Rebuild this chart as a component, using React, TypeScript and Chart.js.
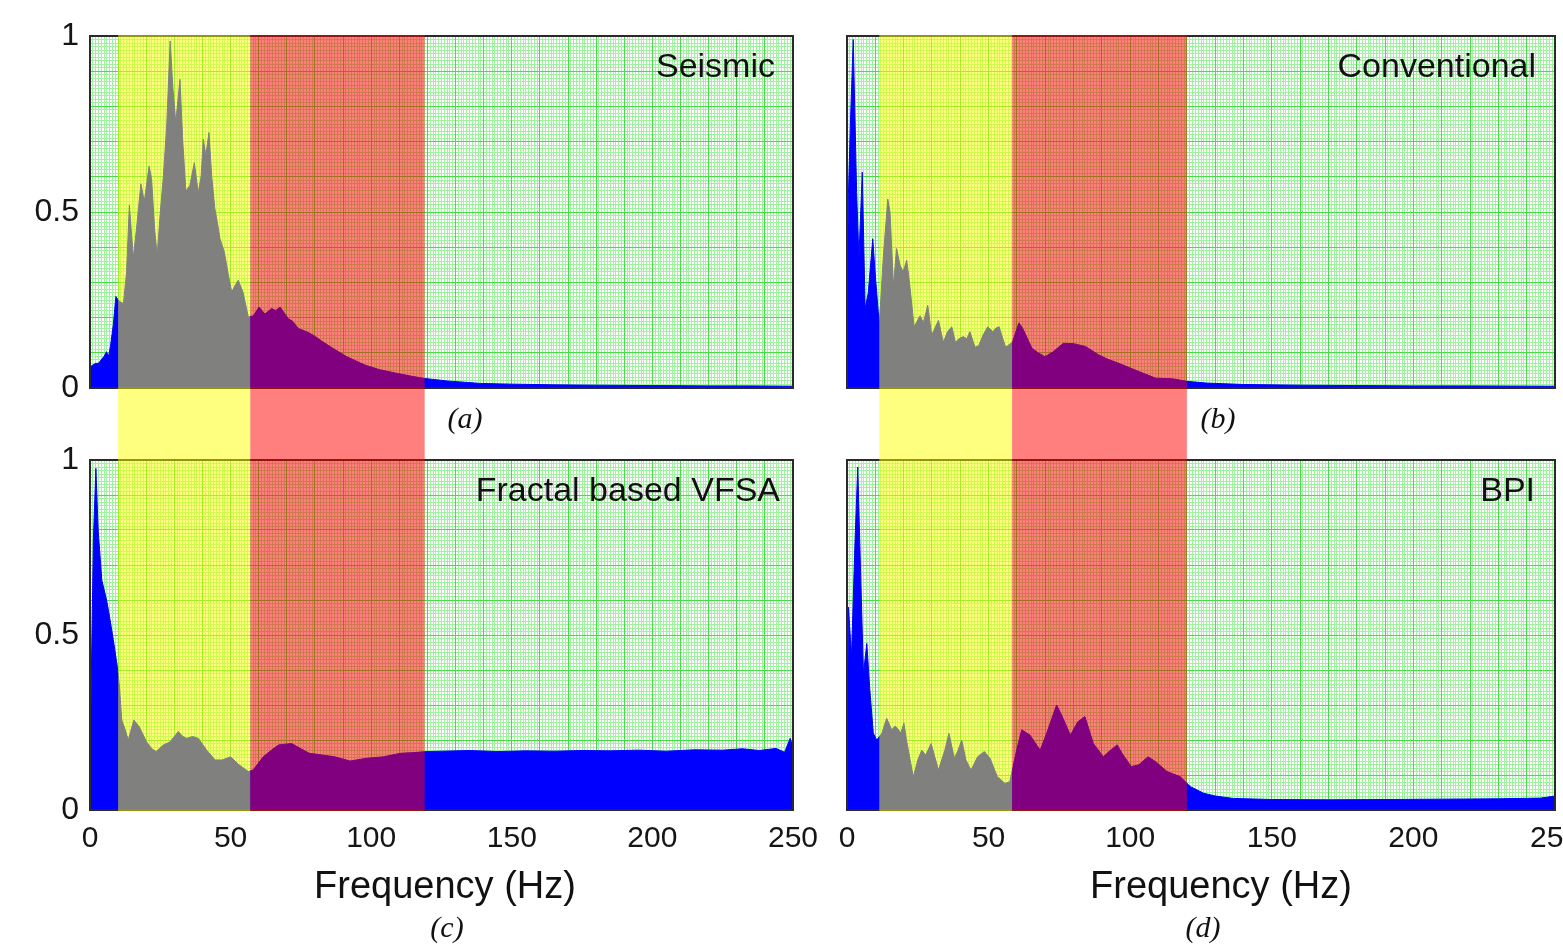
import React, { useEffect, useRef } from 'react';
import { Chart, registerables } from 'chart.js';

Chart.register(...registerables);

// ---------------- data ----------------
const freqSeismic = [0, 1, 2, 3, 4, 5, 5.9, 6.6, 7.3, 8.3, 9.2, 10, 10.7, 11.9, 13, 14, 15.4, 16.5, 18.1, 19.3, 21, 21.9, 23, 23.9, 25, 26.1, 27.3, 28.5, 29.5, 30.5, 31.3, 32, 33, 34.1, 35.5, 37.1, 38.5, 39.5, 40.3, 41.2, 42.3, 43.3, 44.4, 45.3, 46.2, 47.8, 49, 50.4, 51.5, 52.7, 54.4, 56.3, 58.1, 60.1, 62.2, 64.6, 66, 67.6, 70.5, 72, 74.1, 77, 79.4, 83, 86.5, 91.3, 97.8, 103, 109, 114, 119, 127, 139, 150, 165, 180, 200, 220, 235, 250];
const ampSeismic = [0.06, 0.065, 0.07, 0.07, 0.08, 0.09, 0.103, 0.09, 0.12, 0.18, 0.26, 0.25, 0.245, 0.24, 0.33, 0.52, 0.37, 0.45, 0.58, 0.53, 0.63, 0.595, 0.45, 0.377, 0.5, 0.603, 0.75, 0.986, 0.85, 0.755, 0.82, 0.877, 0.7, 0.56, 0.575, 0.64, 0.556, 0.6, 0.707, 0.66, 0.726, 0.6, 0.51, 0.47, 0.425, 0.386, 0.33, 0.273, 0.29, 0.306, 0.273, 0.202, 0.205, 0.23, 0.21, 0.226, 0.22, 0.23, 0.197, 0.19, 0.169, 0.16, 0.15, 0.13, 0.112, 0.089, 0.065, 0.052, 0.042, 0.034, 0.027, 0.02, 0.013, 0.011, 0.009, 0.008, 0.007, 0.006, 0.006, 0.005];

const freqConventional = [0, 0.5, 1.2, 2.2, 3.4, 4.2, 5.4, 6.4, 7.5, 9.1, 9.9, 10.7, 11.4, 12.8, 14.4, 15.2, 16.4, 17.5, 18.7, 19.8, 21.1, 22.2, 23.7, 24.8, 25.8, 27, 28.5, 29.9, 31, 32.3, 34, 35.5, 37, 38.3, 39.5, 41, 42.3, 43.4, 45.2, 46.5, 48, 49.7, 51.5, 52.5, 53.7, 56, 58.4, 60.7, 62, 65.3, 67.5, 69.9, 72.8, 76.4, 80, 84.2, 88.9, 92, 96, 103, 109, 115, 120, 127, 140, 160, 180, 200, 220, 250];
const ampConventional = [0.2, 0.55, 0.75, 0.99, 0.556, 0.37, 0.613, 0.226, 0.27, 0.424, 0.33, 0.25, 0.178, 0.37, 0.537, 0.5, 0.29, 0.396, 0.35, 0.33, 0.363, 0.29, 0.174, 0.19, 0.205, 0.186, 0.235, 0.15, 0.17, 0.192, 0.13, 0.16, 0.174, 0.13, 0.14, 0.146, 0.14, 0.16, 0.116, 0.12, 0.15, 0.174, 0.16, 0.17, 0.174, 0.116, 0.13, 0.185, 0.17, 0.113, 0.1, 0.089, 0.103, 0.127, 0.126, 0.118, 0.094, 0.082, 0.07, 0.047, 0.028, 0.026, 0.019, 0.014, 0.01, 0.008, 0.007, 0.006, 0.006, 0.005];

const freqFractal = [0, 0.5, 1.2, 2.1, 2.9, 4.2, 5.9, 7, 8.3, 9.7, 10.5, 11.3, 12.5, 13.6, 15.6, 17.5, 20.1, 22, 23.5, 26.1, 28.5, 31.4, 33, 34.4, 36.5, 38.5, 41.5, 44.5, 47, 50, 53, 56.3, 58, 61.6, 64.5, 67.1, 71.7, 75, 78, 82.7, 87, 92.5, 98.5, 104.4, 110.3, 115, 119.8, 125, 135, 145, 155, 165, 175, 185, 195, 205, 215, 225, 232, 238, 244, 247, 249, 250];
const ampFractal = [0.02, 0.4, 0.77, 0.976, 0.8, 0.657, 0.6, 0.55, 0.486, 0.41, 0.35, 0.257, 0.23, 0.2, 0.257, 0.238, 0.195, 0.175, 0.167, 0.186, 0.195, 0.224, 0.21, 0.205, 0.21, 0.205, 0.171, 0.143, 0.143, 0.152, 0.129, 0.11, 0.114, 0.152, 0.171, 0.186, 0.19, 0.175, 0.162, 0.157, 0.152, 0.14, 0.148, 0.152, 0.162, 0.164, 0.167, 0.168, 0.17, 0.167, 0.169, 0.168, 0.17, 0.169, 0.171, 0.168, 0.172, 0.171, 0.175, 0.17, 0.176, 0.165, 0.205, 0.18];

const freqBPI = [0, 0.5, 1.6, 2.8, 3.8, 4.8, 5.8, 7, 8, 9.3, 10.5, 12.3, 14, 15.8, 17, 18.2, 19, 20.1, 21, 23.4, 25, 26.4, 27.8, 29.7, 31, 32.3, 34.5, 36, 37.9, 39.2, 40.5, 42, 43.8, 46.1, 48.5, 50.5, 53.1, 55.8, 57.5, 59.9, 61.7, 64.6, 68.2, 70.5, 74, 75.5, 78.9, 81.5, 84, 87, 90.5, 92.5, 95.4, 97.5, 100.4, 103, 106.3, 109, 113, 117.7, 121.2, 125.9, 130, 136.5, 150, 170, 190, 210, 230, 245, 250];
const ampBPI = [0, 0.58, 0.44, 0.76, 0.98, 0.68, 0.39, 0.476, 0.35, 0.219, 0.2, 0.219, 0.262, 0.229, 0.24, 0.229, 0.22, 0.248, 0.2, 0.095, 0.143, 0.171, 0.157, 0.19, 0.152, 0.114, 0.17, 0.219, 0.148, 0.17, 0.2, 0.143, 0.114, 0.152, 0.167, 0.148, 0.095, 0.076, 0.081, 0.171, 0.229, 0.214, 0.171, 0.219, 0.3, 0.276, 0.214, 0.252, 0.267, 0.19, 0.152, 0.167, 0.186, 0.157, 0.124, 0.129, 0.152, 0.138, 0.11, 0.095, 0.067, 0.048, 0.04, 0.033, 0.03, 0.029, 0.03, 0.031, 0.032, 0.034, 0.04];

const panelTitles = ['Seismic', 'Conventional', 'Fractal based VFSA', 'BPI'];
const captions = ['(a)', '(b)', '(c)', '(d)'];
const xTickValues = [0, 50, 100, 150, 200, 250];
const yTickValues = [0, 0.5, 1];
const xAxisTitle = 'Frequency (Hz)';
// band edges (Hz): yellow from [0] to [1], red from [1] to [2]
const bandsLeft = [10, 57, 119];
const bandsRight = [11.4, 58.3, 120];

const SANS = '"Liberation Sans", Arial, Helvetica, sans-serif';
const SERIF = '"Liberation Serif", "Times New Roman", serif';

const decoPlugin = {
  id: 'panelDeco',
  afterDatasetsDraw(chart: any, _args: any, opts: any) {
    const { ctx, chartArea } = chart;
    const { left, right, top, bottom } = chartArea;
    const xs = chart.scales.x;
    ctx.save();
    ctx.strokeStyle = '#2a2a2a';
    ctx.lineWidth = 2;
    ctx.strokeRect(left, top, right - left, bottom - top);
    const bandBottom = opts.extend ? chart.height : bottom + 1;
    const b = opts.bands as number[];
    const x0 = xs.getPixelForValue(b[0]);
    const x1 = xs.getPixelForValue(b[1]);
    const x2 = xs.getPixelForValue(b[2]);
    ctx.fillStyle = 'rgba(255,255,0,0.5)';
    ctx.fillRect(x0, top - 1, x1 - x0, bandBottom - top + 1);
    ctx.fillStyle = 'rgba(255,0,0,0.5)';
    ctx.fillRect(x1, top - 1, x2 - x1, bandBottom - top + 1);
    ctx.font = `34px ${SANS}`;
    ctx.fillStyle = '#111';
    ctx.textAlign = 'right';
    ctx.textBaseline = 'middle';
    ctx.fillText(opts.title, right - opts.inset, top + 32);
    ctx.restore();
  },
};

type PanelProps = {
  left: number; top: number; width: number; height: number;
  padding: { top: number; right: number; bottom: number; left: number };
  yWidth: number; xHeight: number; showY: boolean; showX: boolean;
  freq: number[]; amp: number[]; title: string; inset: number;
  bands: number[]; extend: boolean;
};

const MINOR = 'rgb(160,242,160)';
const MAJOR = 'rgb(70,222,70)';

function Panel(p: PanelProps) {
  const ref = useRef<HTMLCanvasElement>(null);
  useEffect(() => {
    const chart = new Chart(ref.current as HTMLCanvasElement, {
      type: 'line',
      data: {
        datasets: [{
          data: p.freq.map((f, i) => ({ x: f, y: p.amp[i] })),
          borderColor: '#0000ff',
          backgroundColor: '#0000ff',
          borderWidth: 1,
          pointRadius: 0,
          fill: 'origin',
          tension: 0,
          xAxisID: 'x',
          yAxisID: 'y',
        }],
      },
      options: {
        responsive: false,
        animation: false,
        events: [],
        layout: { padding: p.padding },
        plugins: {
          legend: { display: false },
          tooltip: { enabled: false },
          panelDeco: { bands: p.bands, extend: p.extend, title: p.title, inset: p.inset },
        } as any,
        scales: {
          xMinor: {
            type: 'linear', position: 'bottom', min: 0, max: 250,
            ticks: { display: false, stepSize: 1 },
            grid: { color: MINOR, drawTicks: false, lineWidth: 1 },
            border: { display: false },
            afterFit: (s: any) => { s.height = 0; },
          },
          yMinor: {
            type: 'linear', position: 'left', min: 0, max: 1,
            ticks: { display: false, stepSize: 0.01 },
            grid: { color: MINOR, drawTicks: false, lineWidth: 1 },
            border: { display: false },
            afterFit: (s: any) => { s.width = 0; },
          },
          x: {
            type: 'linear', position: 'bottom', min: 0, max: 250,
            ticks: {
              display: p.showX, stepSize: 10, autoSkip: false, maxRotation: 0,
              padding: 11, color: '#151515', font: { family: SANS, size: 30 },
              callback: (v: any) => (xTickValues.includes(v) ? String(v) : ''),
            },
            grid: { color: MAJOR, drawTicks: false, lineWidth: 1 },
            border: { display: false },
            afterFit: (s: any) => { s.height = p.xHeight; },
          },
          y: {
            type: 'linear', position: 'left', min: 0, max: 1,
            ticks: {
              display: p.showY, stepSize: 0.1, autoSkip: false,
              padding: 11, color: '#151515', font: { family: SANS, size: 32 },
              callback: (v: any) => (yTickValues.includes(v) ? String(v) : ''),
            },
            grid: { color: MAJOR, drawTicks: false, lineWidth: 1 },
            border: { display: false },
            afterFit: (s: any) => { s.width = p.yWidth; },
          },
        } as any,
      },
      plugins: [decoPlugin],
    } as any);
    return () => chart.destroy();
  }, []);
  return (
    <canvas
      ref={ref}
      width={p.width}
      height={p.height}
      style={{ position: 'absolute', left: p.left, top: p.top, width: p.width, height: p.height, display: 'block' }}
    />
  );
}

const textStyle = (x: number, y: number, size: number, family: string, italic: boolean): React.CSSProperties => ({
  position: 'absolute', left: x, top: y, transform: 'translateX(-50%)', whiteSpace: 'nowrap',
  fontFamily: family, fontSize: size, lineHeight: `${size}px`, fontStyle: italic ? 'italic' : 'normal', color: '#111',
});

export default function App() {
  useEffect(() => {
    document.body.style.overflow = 'hidden';
  }, []);
  return (
    <div style={{ position: 'absolute', left: 0, top: 0, width: 1563, height: 948, overflow: 'hidden', background: '#fff' }}>
      <Panel left={0} top={0} width={820} height={460}
        padding={{ top: 36, right: 27, bottom: 72, left: 0 }} yWidth={90} xHeight={0}
        showY={true} showX={false} freq={freqSeismic} amp={ampSeismic}
        title={panelTitles[0]} inset={18} bands={bandsLeft} extend={true} />
      <Panel left={820} top={0} width={743} height={460}
        padding={{ top: 36, right: 8, bottom: 72, left: 0 }} yWidth={27} xHeight={0}
        showY={false} showX={false} freq={freqConventional} amp={ampConventional}
        title={panelTitles[1]} inset={19} bands={bandsRight} extend={true} />
      <Panel left={0} top={410} width={850} height={538}
        padding={{ top: 50, right: 57, bottom: 0, left: 0 }} yWidth={90} xHeight={138}
        showY={true} showX={true} freq={freqFractal} amp={ampFractal}
        title={panelTitles[2]} inset={13} bands={bandsLeft} extend={false} />
      <Panel left={820} top={410} width={800} height={538}
        padding={{ top: 50, right: 65, bottom: 0, left: 0 }} yWidth={27} xHeight={138}
        showY={false} showX={true} freq={freqBPI} amp={ampBPI}
        title={panelTitles[3]} inset={20} bands={bandsRight} extend={false} />
      <div style={textStyle(445, 866, 38, SANS, false)}>{xAxisTitle}</div>
      <div style={textStyle(1221, 866, 38, SANS, false)}>{xAxisTitle}</div>
      <div style={textStyle(465, 403, 30, SERIF, true)}>{captions[0]}</div>
      <div style={textStyle(1218, 403, 30, SERIF, true)}>{captions[1]}</div>
      <div style={textStyle(447, 912, 30, SERIF, true)}>{captions[2]}</div>
      <div style={textStyle(1203, 912, 30, SERIF, true)}>{captions[3]}</div>
    </div>
  );
}
